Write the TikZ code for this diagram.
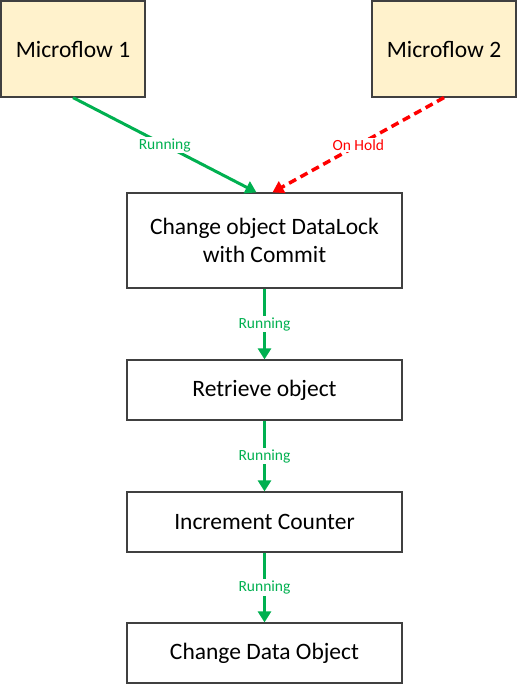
\documentclass[tikz,border=0pt]{standalone}
\usepackage{fontspec}
\setmainfont{Carlito}
\usepackage{tikz}
\usetikzlibrary{arrows.meta}
\definecolor{runcol}{HTML}{00B050}
\definecolor{holdcol}{HTML}{FF0000}
\definecolor{flowfill}{HTML}{FFF2CC}
\definecolor{boxline}{HTML}{404040}
\tikzset{
  flowbox/.style={draw=boxline, line width=1.2pt, fill=flowfill, minimum width=144pt, minimum height=96pt, font=\fontsize{23.5}{28}\selectfont},
  actbox/.style={draw=boxline, line width=1.2pt, fill=white, minimum width=275pt, minimum height=60pt, align=center, font=\fontsize{23.5}{28}\selectfont},
  run/.style={draw=runcol, line width=3pt, -{Triangle[width=13pt,length=11pt]}},
  hold/.style={draw=holdcol, line width=3.5pt, dash pattern=on 8pt off 5pt, -{Triangle[width=13pt,length=11pt]}},
  lbl/.style={fill=white, inner sep=1.5pt, font=\fontsize{15.5}{18}\selectfont}
}
\begin{document}
\begin{tikzpicture}[x=1pt,y=1pt]
\useasboundingbox (0,0) rectangle (517,-685);
  \draw (73,-49) node[flowbox] (mfone) {Microflow 1};
  \draw (444,-49) node[flowbox] (mftwo) {Microflow 2};
  \draw (264.5,-240.5) node[actbox, minimum height=95pt] (lock) {Change object DataLock\\with Commit};
  \draw (264.5,-390) node[actbox] (retrieve) {Retrieve object};
  \draw (264.5,-522) node[actbox] (increment) {Increment Counter};
  \draw (264.5,-653) node[actbox] (changedata) {Change Data Object};

  \coordinate (lockin) at ([xshift=-8pt]lock.north);
  \coordinate (holdin) at ([xshift=8pt]lock.north);

     \path (mfone.south) edge[run] node[lbl, text=runcol] {Running} (lockin);
     \path (mftwo.south) edge[hold] node[lbl, text=holdcol] {On Hold} (holdin);
     \path (lock) edge[run] node[lbl, text=runcol] {Running} (retrieve);
     \path (retrieve) edge[run] node[lbl, text=runcol] {Running} (increment);
     \path (increment) edge[run] node[lbl, text=runcol] {Running} (changedata);

\end{tikzpicture}
\end{document}
